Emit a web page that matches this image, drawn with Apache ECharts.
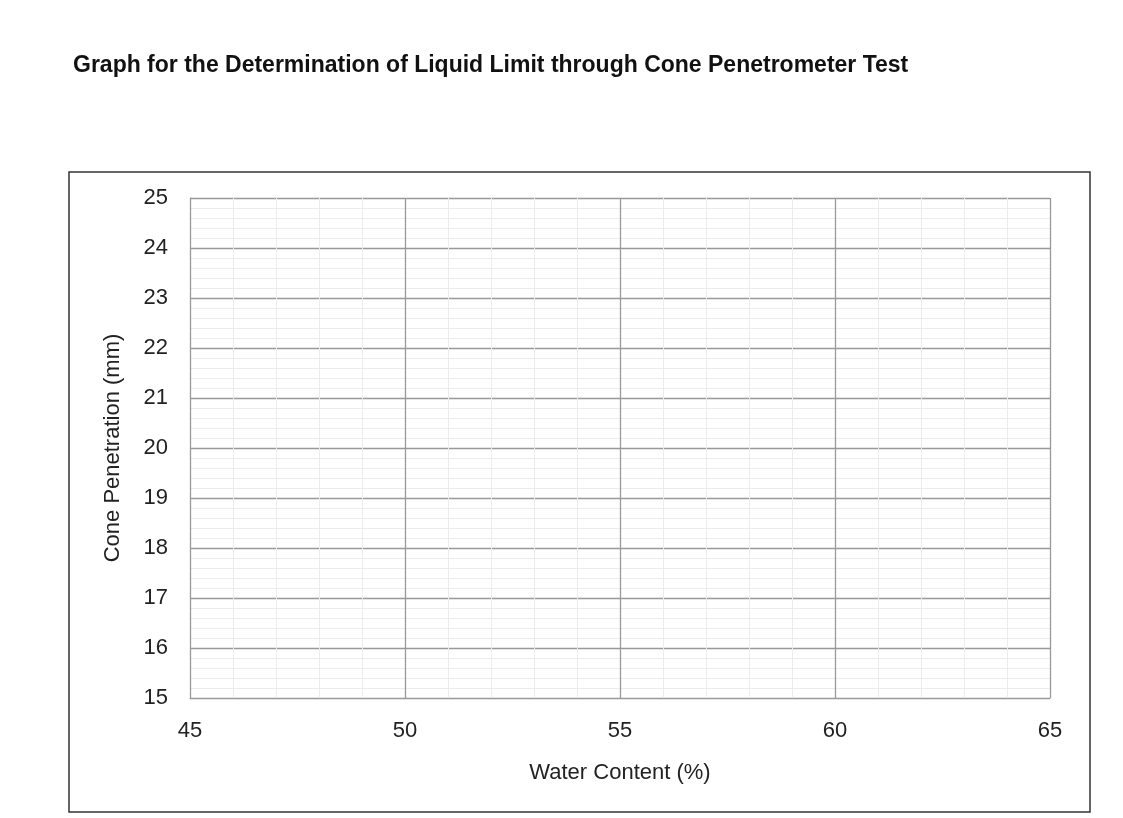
<!DOCTYPE html><html><head><meta charset="utf-8"><script src="https://cdn.jsdelivr.net/npm/echarts@6/dist/echarts.min.js"></script>
<style>body{margin:0;background:#fff}#c{width:1123px;height:818px}</style></head><body><div id="c"></div><script>
const xTicks=[45,50,55,60,65];
const yTicks=[15,16,17,18,19,20,21,22,23,24,25];
const testPoints=[];
const F='Arial, "Liberation Sans", sans-serif';
const c=echarts.init(document.getElementById('c'));
c.setOption({
 title:{text:'Graph for the Determination of Liquid Limit through Cone Penetrometer Test',left:68,top:49,textStyle:{fontFamily:F,fontSize:23,fontWeight:'bold',color:'#111'}},
 graphic:[{type:'rect',shape:{x:69,y:172,width:1021,height:640},style:{fill:null,stroke:'#333',lineWidth:1.5}}],
 grid:{left:190,top:198,width:860,height:500},
 xAxis:{type:'value',min:xTicks[0],max:xTicks[xTicks.length-1],interval:5,name:'Water Content (%)',nameLocation:'middle',nameGap:64,
  nameTextStyle:{fontFamily:F,fontSize:22,color:'#222'},
  axisLine:{show:true,lineStyle:{color:'#999'}},axisTick:{show:false},
  axisLabel:{fontFamily:F,fontSize:22,color:'#222',margin:22},
  splitLine:{lineStyle:{color:'#999',width:1.3}},minorTick:{show:false,splitNumber:5},minorSplitLine:{show:true,lineStyle:{color:'#ececec'}}},
 yAxis:{type:'value',min:yTicks[0],max:yTicks[yTicks.length-1],interval:1,name:'Cone Penetration (mm)',nameLocation:'middle',nameGap:66,
  nameTextStyle:{fontFamily:F,fontSize:22,color:'#222'},
  axisLine:{show:true,lineStyle:{color:'#999'}},axisTick:{show:false},
  axisLabel:{fontFamily:F,fontSize:22,color:'#222',margin:22},
  splitLine:{lineStyle:{color:'#999',width:1.3}},minorTick:{show:false,splitNumber:5},minorSplitLine:{show:true,lineStyle:{color:'#ececec'}}},
 series:[{type:'scatter',data:testPoints}]
});
</script></body></html>
